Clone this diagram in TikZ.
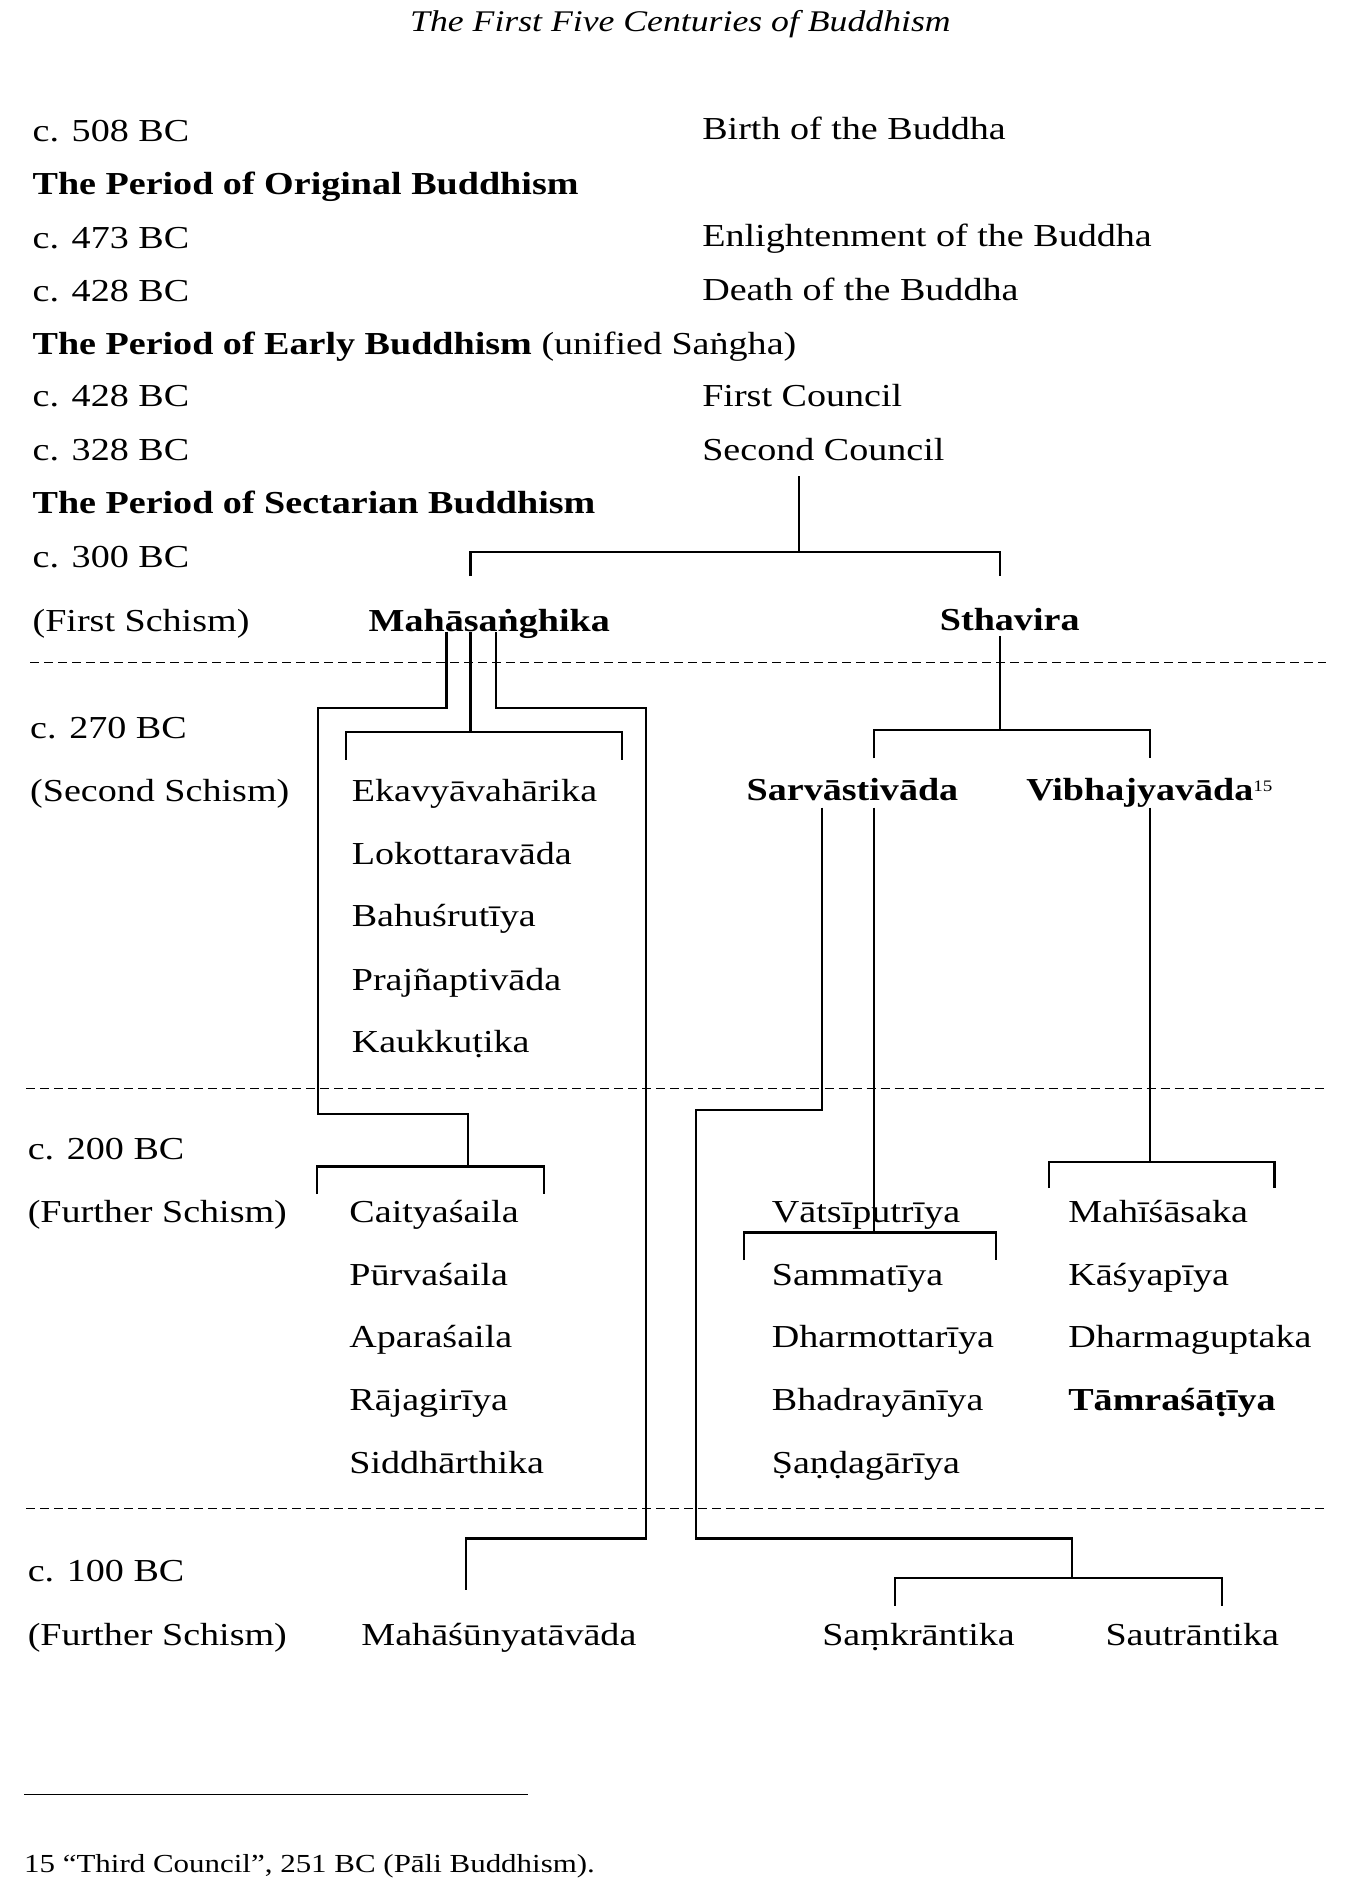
\documentclass[tikz,border=0pt]{standalone}
\usepackage{fontspec}
\setmainfont{Liberation Serif}[FakeStretch=1.19]
\begin{document}
\begin{tikzpicture}[x=1.2pt,y=-1.2pt,
  t/.style={anchor=base west,inner sep=0pt,font=\fontsize{32}{36}\selectfont},
  b/.style={t,font=\fontsize{32}{36}\selectfont\bfseries},
  ln/.style={line width=2.2pt},
  dl/.style={line width=1.6pt,dash pattern=on 9pt off 5pt}]
\useasboundingbox (0,0) rectangle (1121,1569);
\node[t,anchor=base,font=\fontsize{30}{34}\selectfont\itshape] (title) at (567,26) {The First Five Centuries of Buddhism};
% left column
\node[t] (d1) at (27,118) {c. 508 BC};
\node[b] (p1) at (27,162) {The Period of Original Buddhism};
\node[t] (d2) at (27,207) {c. 473 BC};
\node[t] (d3) at (27,251) {c. 428 BC};
\node[t] (p2) at (27,295) {\textbf{The Period of Early Buddhism} (unified Saṅgha)};
\node[t] (d4) at (27,339) {c. 428 BC};
\node[t] (d5) at (27,384) {c. 328 BC};
\node[b] (p3) at (27,428) {The Period of Sectarian Buddhism};
\node[t] (d6) at (27,473) {c. 300 BC};
\node[t] (s1) at (27,526) {(First Schism)};
\node[t] (d7) at (25,615) {c. 270 BC};
\node[t] (s2) at (25,668) {(Second Schism)};
\node[t] (d8) at (23,966) {c. 200 BC};
\node[t] (s3) at (23,1019) {(Further Schism)};
\node[t] (d9) at (23,1318) {c. 100 BC};
\node[t] (s4) at (23,1371) {(Further Schism)};
% events
\node[t] (e1) at (585,116) {Birth of the Buddha};
\node[t] (e2) at (585,205) {Enlightenment of the Buddha};
\node[t] (e3) at (585,250) {Death of the Buddha};
\node[t] (e4) at (585,339) {First Council};
\node[t] (e5) at (585,384) {Second Council};
% schools
\node[b] (mah) at (307,526) {Mahāsaṅghika};
\node[b] (sth) at (783,525) {Sthavira};
\node[b] (sar) at (622,667) {Sarvāstivāda};
\node[b] (vib) at (855,667) {Vibhajyavāda\textsuperscript{\normalfont\fontsize{16}{18}\selectfont 15}};
\foreach \n/\y/\s in {m1/668/Ekavyāvahārika,m2/720/Lokottaravāda,m3/772/Bahuśrutīya,m4/825/Prajñaptivāda,m5/877/Kaukkuṭika}
  \node[t] (\n) at (293,\y) {\s};
\foreach \n/\y/\s in {c1/1019/Caityaśaila,c2/1071/Pūrvaśaila,c3/1123/Aparaśaila,c4/1175/Rājagirīya,c5/1228/Siddhārthika}
  \node[t] (\n) at (291,\y) {\s};
\foreach \n/\y/\s in {v0/1019/Vātsīputrīya,v1/1071/Sammatīya,v2/1123/Dharmottarīya,v3/1175/Bhadrayānīya,v4/1228/Ṣaṇḍagārīya}
  \node[t] (\n) at (643,\y) {\s};
\node[t] (h1) at (890,1019) {Mahīśāsaka};
\node[t] (h2) at (890,1071) {Kāśyapīya};
\node[t] (h3) at (890,1123) {Dharmaguptaka};
\node[b] (h4) at (890,1175) {Tāmraśāṭīya};
\node[t] (ms) at (301,1371) {Mahāśūnyatāvāda};
\node[t] (sk) at (685,1371) {Saṃkrāntika};
\node[t] (st) at (921,1371) {Sautrāntika};
% dashed separators
\coordinate (a1) at (25,552); \coordinate (a2) at (1105,552);
\coordinate (b1) at (22,907); \coordinate (b2) at (1103,907);
\coordinate (c1a) at (22,1257); \coordinate (c2a) at (1103,1257);
\draw[dl] (a1) -- (a2);
\draw[dl] (b1) -- (b2);
\draw[dl] (c1a) -- (c2a);
% tree
\draw[ln] (666,397) -- (666,460);
\draw[ln] (392,480) -- (392,460) -- (833,460) -- (833,480);
\draw[ln] (372,527) -- (372,590) -- (265,590) -- (265,928) -- (390,928) -- (390,972);
\draw[ln] (264,995) -- (264,972) -- (453,972) -- (453,995);
\draw[ln] (392,527) -- (392,610);
\draw[ln] (288,633) -- (288,610) -- (518,610) -- (518,633);
\draw[ln] (413,527) -- (413,590) -- (538,590) -- (538,1282) -- (388,1282) -- (388,1325);
\draw[ln] (833,530) -- (833,608);
\draw[ln] (728,632) -- (728,608) -- (958,608) -- (958,632);
\draw[ln] (685,673) -- (685,925) -- (580,925) -- (580,1282) -- (893,1282) -- (893,1315);
\draw[ln] (746,1338) -- (746,1315) -- (1018,1315) -- (1018,1338);
\draw[ln] (728,673) -- (728,1027);
\draw[ln] (620,1050) -- (620,1027) -- (830,1027) -- (830,1050);
\draw[ln] (958,673) -- (958,968);
\draw[ln] (874,990) -- (874,968) -- (1062,968) -- (1062,990);
% footnote
\coordinate (f1) at (20,1495); \coordinate (f2) at (440,1495);
\draw[line width=1.4pt] (f1) -- (f2);
\node[t,font=\fontsize{26}{30}\selectfont] (fn) at (20,1560) {15 “Third Council”, 251 BC (Pāli Buddhism).};
\end{tikzpicture}
\end{document}
